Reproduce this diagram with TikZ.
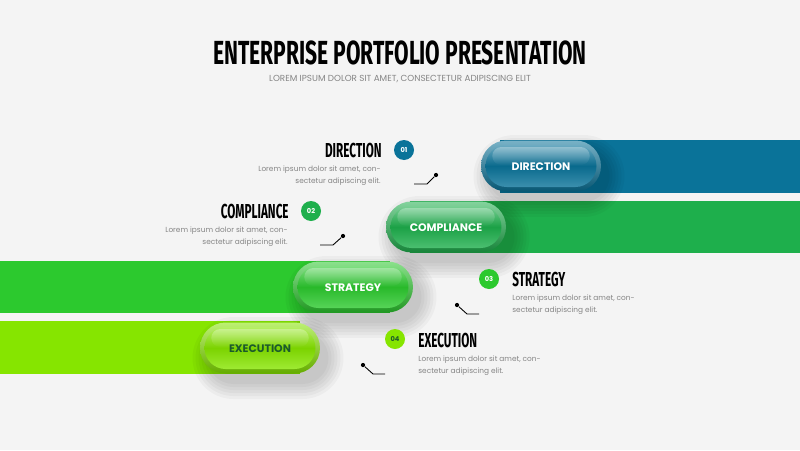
\documentclass[tikz,border=0pt]{standalone}
\usepackage{fontspec}
\setmainfont{Poppins}
\newfontfamily\titlefont{Fira Sans}[FakeStretch=0.63]
\newfontfamily\headfont{Fira Sans}[FakeStretch=0.58]
\usetikzlibrary{shapes.misc,fadings}
\definecolor{bgc}{HTML}{F4F4F4}
\definecolor{blueC}{HTML}{0A7399}
\definecolor{greenA}{HTML}{1EAF4C}
\definecolor{greenB}{HTML}{2CC92E}
\definecolor{limeC}{HTML}{86E500}
\definecolor{grayT}{HTML}{858585}
\definecolor{darkG}{HTML}{1C5A2C}
\tikzset{
 pillbase/.style={rounded rectangle, minimum width=2.4cm, minimum height=1.02cm, inner sep=0},
 pillface/.style={rounded rectangle, minimum width=2.22cm, minimum height=0.84cm, inner sep=0},
 pilllight/.style={rounded rectangle, minimum width=1.95cm, minimum height=0.36cm, inner sep=0, fill=white, fill opacity=0.3, path fading=south},
 pillshadow/.style={rounded rectangle, inner sep=0, fill=black, opacity=0.03},
 pilltext/.style={font=\bfseries\fontsize{6.2}{7}\selectfont, inner sep=0},
 heading/.style={font=\headfont\bfseries\fontsize{11.5}{12}\selectfont, inner sep=0, text=black},
 desc/.style={font=\fontsize{4.2}{6.8}\selectfont, text=grayT, inner sep=0},
 numdot/.style={circle, minimum size=0.4cm, inner sep=0, font=\bfseries\fontsize{3.8}{4}\selectfont},
 tick/.style={line width=0.5pt, black},
 tickdot/.style={circle, fill=black, minimum size=2.4pt, inner sep=0},
}
\newcommand\mypill[6]{%
  \foreach \k in {1,...,6}{%
    \node[pillshadow, minimum width=(2.3+0.12*\k)*1cm, minimum height=(0.92+0.12*\k)*1cm] (#1-sh\k) at (#2+8,#3+10) {};}
  \node[pillbase, top color=#4!55!white, bottom color=#4!75!black] (#1-base) at (#2,#3) {};
  \node[pillface, top color=#4!60!white, bottom color=#4!80!white, middle color=#4!92!black] (#1-face) at (#2,#3) {};
  \node[pilllight] (#1-light) at (#2,#3-10) {};
  \node[pilltext, text=#6] (#1) at (#2,#3+1) {#5};
}
\begin{document}
\begin{tikzpicture}[x=0.02cm,y=-0.02cm]
\fill[bgc] (0,0) rectangle (800,450);
\useasboundingbox (0,0) rectangle (800,450);

% title
\node[font=\titlefont\bfseries\fontsize{19}{20}\selectfont, inner sep=0] (title) at (400,53) {ENTERPRISE PORTFOLIO PRESENTATION};
\node[font=\fontsize{5.0}{6}\selectfont, text=grayT, inner sep=0] (subtitle) at (400,79) {LOREM IPSUM DOLOR SIT AMET, CONSECTETUR ADIPISCING ELIT};

% bars
\fill[blueC] (500,140) rectangle (800,193);
\fill[greenA] (410,201) rectangle (800,253);
\fill[greenB] (0,261) rectangle (390,313);
\fill[limeC] (0,321) rectangle (300,374);

% pills
\mypill{p1}{541}{166}{blueC}{DIRECTION}{white}
\mypill{p2}{446}{227}{greenA}{COMPLIANCE}{white}
\mypill{p3}{353}{287}{greenB}{STRATEGY}{white}
\mypill{p4}{260}{348}{limeC}{EXECUTION}{darkG}

% item 1
\node[heading, anchor=east] (h1) at (382,150) {DIRECTION};
\node[numdot, fill=blueC, text=white] (n1) at (404,150) {01};
\node[desc, anchor=north east, align=right] (d1) at (381,166) {Lorem ipsum dolor sit amet, con-\\sectetur adipiscing elit.};
\coordinate (t1a) at (414,184); \coordinate (t1b) at (427,184);
\node[tickdot] (t1c) at (436,175) {};
\draw[tick] (t1a) -- (t1b) -- (t1c);

% item 2
\node[heading, anchor=east] (h2) at (289,211) {COMPLIANCE};
\node[numdot, fill=greenA, text=white] (n2) at (311,211) {02};
\node[desc, anchor=north east, align=right] (d2) at (288,227) {Lorem ipsum dolor sit amet, con-\\sectetur adipiscing elit.};
\coordinate (t2a) at (320,245); \coordinate (t2b) at (333,245);
\node[tickdot] (t2c) at (343,236) {};
\draw[tick] (t2a) -- (t2b) -- (t2c);

% item 3
\node[numdot, fill=greenB, text=white] (n3) at (489,279) {03};
\node[heading, anchor=west] (h3) at (512,279) {STRATEGY};
\node[desc, anchor=north west, align=left] (d3) at (512,295) {Lorem ipsum dolor sit amet, con-\\sectetur adipiscing elit.};
\node[tickdot] (t3a) at (457,305) {};
\coordinate (t3b) at (467,314); \coordinate (t3c) at (479,314);
\draw[tick] (t3a) -- (t3b) -- (t3c);

% item 4
\node[numdot, fill=limeC, text=darkG] (n4) at (395,339) {04};
\node[heading, anchor=west] (h4) at (418,340) {EXECUTION};
\node[desc, anchor=north west, align=left] (d4) at (418,356) {Lorem ipsum dolor sit amet, con-\\sectetur adipiscing elit.};
\node[tickdot] (t4a) at (363,365) {};
\coordinate (t4b) at (373,374); \coordinate (t4c) at (385,374);
\draw[tick] (t4a) -- (t4b) -- (t4c);
\end{tikzpicture}
\end{document}
